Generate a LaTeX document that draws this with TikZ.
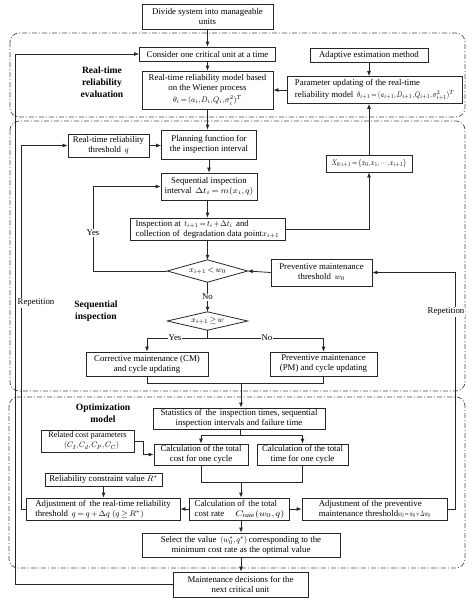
\documentclass[tikz,border=0pt]{standalone}
\usepackage{fontspec}
\setmainfont{Liberation Serif}
\usetikzlibrary{arrows.meta}
\newcommand\fm[1]{{\fontsize{8}{9}\selectfont\thinmuskip=1.5mu\medmuskip=2mu\thickmuskip=3mu$#1$}}
\newcommand\fw[2]{\resizebox{#1pt}{\height}{\fm{#2}}}
\begin{document}
\begin{tikzpicture}[x=1pt,y=-1pt,
  bx/.style 2 args={draw=black!85, line width=0.8pt, fill=white, inner sep=1pt, align=center,
     minimum width=#1pt, minimum height=#2pt, font=\fontsize{8.8}{10}\selectfont},
  bxl/.style 2 args={bx={#1}{#2}, align=left},
  dia/.style={inner sep=0pt, minimum width=80pt, minimum height=#1pt, font=\fontsize{8.5}{10}\selectfont},
  diaedge/.style={line width=0.8pt, draw=black!85},
  arr/.style={-{Latex[length=5pt,width=4pt]}, line width=0.8pt, draw=black!85},
  ln/.style={line width=0.8pt, draw=black!85},
  region/.style={draw=black!70, line width=0.7pt, dash pattern=on 5pt off 2pt on 1pt off 2pt, rounded corners=9pt},
  lbl/.style={fill=white, inner sep=1pt, font=\fontsize{8.8}{10}\selectfont},
  ttl/.style={align=center, font=\bfseries\fontsize{9.6}{12}\selectfont}
]
\useasboundingbox (0,0) rectangle (474,603);
% regions
\draw[region] (10,33) rectangle (465,117);
\draw[region] (10,121) rectangle (465,391);
\draw[region] (9,397) rectangle (465,568);
% titles
\node[ttl] (t1) at (102,82) {Real-time\\reliability\\evaluation};
\node[ttl] (t2) at (96,311) {Sequential\\inspection};
\node[ttl] (t3) at (103,413) {Optimization\\model};
% nodes
\node[bx={131}{25}] (divide) at (207.5,16.5) {Divide system into manageable\\units};
\node[bx={136}{14}] (consider) at (207.5,54) {Consider one critical unit at a time};
\node[bx={118}{14}] (adaptive) at (369,55) {Adaptive estimation method};
\node[bx={131}{38}] (rtmodel) at (207.5,90) {Real-time reliability model based\\on the Wiener process\\[1.5pt]\fw{69}{\theta_i=(a_i,D_i,Q_i,\sigma_i^2)^T}};
\node[bxl={175}{27}] (param) at (374.5,90) {Parameter updating of the real-time\\[1.5pt]reliability model \,\fw{97}{\theta_{i+1}=(a_{i+1},D_{i+1},Q_{i+1},\sigma_{i+1}^2)^T}};
\node[bx={81}{23}] (threshq) at (108.5,145.5) {Real-time reliability\\threshold \,\fm{q}};
\node[bx={95}{29}] (planning) at (209,144.5) {Planning function for\\the inspection interval};
\node[bx={86}{17}] (Xbox) at (369,163.5) {\fw{75}{X_{0:i+1}=\{x_0,x_1,\cdots,x_{i+1}\}}};
\node[bx={96}{27}] (seqint) at (209,186.5) {Sequential inspection\\interval \,\fw{58}{\Delta t_i=m(x_i,q)}};
\node[bxl={155}{22}] (inspect) at (207.5,229) {Inspection at \,\fw{48}{t_{i+1}=t_i+\Delta t_i} \,and\\collection of \,degradation data point\fm{x_{i+1}}};
\node[dia=22] (d1) at (207.5,271) {\fm{x_{i+1}<w_0}};
\draw[diaedge] (d1.west) -- (d1.north) -- (d1.east) -- (d1.south) -- cycle;
\node[bx={101}{27}] (pmthresh) at (321.5,272.5) {Preventive maintenance\\threshold \,\fm{w_0}};
\node[dia=18] (d2) at (207.5,321) {\fm{x_{i+1}\ge w}};
\draw[diaedge] (d2.west) -- (d2.north) -- (d2.east) -- (d2.south) -- cycle;
\node[bx={122}{24}] (cm) at (147,364) {Corrective maintenance (CM)\\and cycle updating};
\node[bx={107}{24}] (pm) at (323.5,364) {Preventive maintenance\\(PM) and cycle updating};
\node[bx={172}{21}] (stats) at (239,418.5) {Statistics of \,the \,inspection times, sequential\\inspection intervals and failure time};
\node[bx={93}{22}, font=\fontsize{8.2}{10}\selectfont] (costparams) at (87.5,441) {Related cost parameters\\\quad\fw{55}{(C_I,C_d,C_P,C_C)}};
\node[bx={94}{21}] (cost) at (201,454.5) {Calculation of the total\\cost for one cycle};
\node[bx={91}{21}] (time) at (302.5,454.5) {Calculation of the total\\time for one cycle};
\node[bx={117}{13}] (relcon) at (103.5,479.5) {Reliability constraint value \fm{R^*}};
\node[bxl={154}{22}] (adjq) at (103,509) {Adjustment of \,the real-time reliability\\threshold \,\fw{72}{q=q+\Delta q\ (q\ge R^*)}};
\node[bxl={100}{22}] (rate) at (239.5,509) {Calculation of \,the total\\cost rate \quad \fw{49}{C_{\mathit{rate}}(w_0,q)}};
\node[bxl={145}{22}] (adjpm) at (374.5,509) {Adjustment of the preventive\\maintenance threshold\fw{32}{w_0=w_0+\Delta w_0}};
\node[bx={198}{24}] (select) at (241,545) {Select the value \,\fw{27}{(w_0^*,q^*)}\,corresponding to the\\minimum cost rate as the optimal value};
\node[bx={135}{25}] (maint) at (240.5,584.5) {Maintenance decisions for the\\next critical unit};
% connectors
\draw[arr] (divide.south) -- (divide.south |- consider.north);
\draw[arr] (consider.south) -- (consider.south |- rtmodel.north);
\draw[arr] (adaptive.south) -- (adaptive.south |- param.north);
\draw[arr] (param.west) -- (rtmodel.east);
\draw[arr] (rtmodel.south) -- (rtmodel.south |- planning.north);
\draw[arr] (threshq.east) -- (threshq.east -| planning.west);
\draw[arr] (planning.south -| seqint.north) -- (seqint.north);
\draw[arr] (seqint.south -| inspect.north) -- (inspect.north);
\draw[arr] (inspect.east) -| (Xbox.south);
\draw[arr] (Xbox.north) -- (Xbox.north |- param.south);
\draw[arr] (inspect.south) -- (d1.north);
\draw[arr] (d1.west) -- (93,271) |- (seqint.west);
\node[lbl] (yes1) at (93,233) {Yes};
\draw[arr] (pmthresh.west) -- (d1.east);
\draw[arr] (d1.south) -- (d2.north);
\node[lbl] (no1) at (207.5,297) {No};
\coordinate (b1) at (207.5,338);
\draw[ln] (d2.south) -- (b1);
\draw[arr] (b1) -| (cm.north);
\draw[arr] (b1) -| (pm.north);
\node[lbl] (yes2) at (175,338) {Yes};
\node[lbl] (no2) at (267,338) {No};
\coordinate (m1) at (241,383);
\draw[ln] (cm.south) |- (m1);
\draw[ln] (pm.south) |- (m1);
\draw[arr] (m1) -- (m1 |- stats.north);
\coordinate (s1) at (240,435);
\draw[ln] (stats.south -| s1) -- (s1);
\draw[arr] (s1) -| (cost.north);
\draw[arr] (s1) -| (time.north);
\draw[arr] (costparams.east) -- (143,441) |- (cost.west);
\coordinate (m2) at (241,482);
\draw[ln] (cost.south) |- (m2);
\draw[ln] (time.south) |- (m2);
\draw[arr] (m2) -- (m2 |- rate.north);
\draw[arr] (relcon.south) -- (relcon.south |- adjq.north);
\draw[arr] (rate.west) -- (adjq.east);
\draw[arr] (rate.east) -- (adjpm.west);
\draw[arr] (rate.south -| select.north) -- (select.north);
\draw[arr] (select.south) -- (select.south |- maint.north);
\draw[arr] (adjq.west) -- (21,509) |- (threshq.west);
\draw[arr] (adjpm.east) -- (455,509) |- (pmthresh.east);
\draw[arr] (maint.west) -- (15,584.5) |- (consider.west);
\node[lbl] (rep1) at (36,303) {Repetition};
\node[lbl] (rep2) at (446,312) {Repetition};
\end{tikzpicture}
\end{document}
